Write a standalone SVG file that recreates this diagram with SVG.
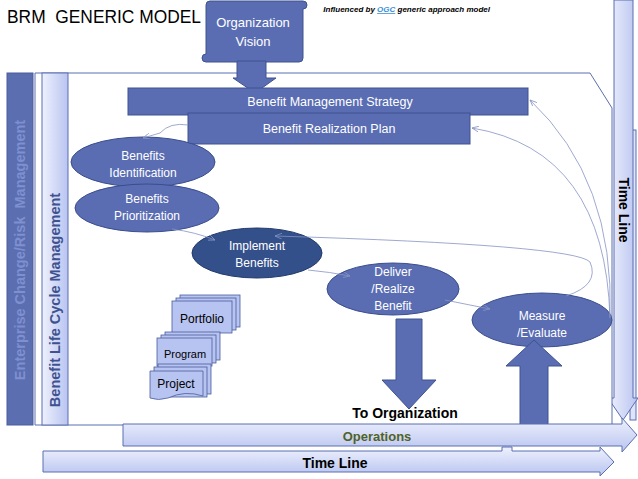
<svg xmlns="http://www.w3.org/2000/svg" width="638" height="479" viewBox="0 0 638 479">
<style>
.box{fill:#5a6db3;stroke:#3e5290;stroke-width:1}
.ell{fill:#5a6db3;stroke:#3a4d8c;stroke-width:1}
.wt{font-family:"Liberation Sans",Arial,sans-serif;fill:#fff;text-anchor:middle;font-size:12px}
.bt{font-family:"Liberation Sans",Arial,sans-serif;fill:#000;text-anchor:middle}
.con{fill:none;stroke:#8593c4;stroke-width:0.8;marker-end:url(#ah)}
.doc{fill:#b7c3f0;stroke:#4a5c9c;stroke-width:0.8}
.barr{fill:url(#lg);stroke:#5b6eb0;stroke-width:1}
</style>
<defs>
<marker id="ah" markerWidth="8" markerHeight="6" refX="7" refY="3" orient="auto" markerUnits="userSpaceOnUse"><path d="M0,0 L7,3 L0,6" fill="none" stroke="#8593c4" stroke-width="0.8"/></marker>
<linearGradient id="lg" x1="0" y1="0" x2="0" y2="1"><stop offset="0" stop-color="#eef1fd"/><stop offset="1" stop-color="#b9c4f0"/></linearGradient>
<linearGradient id="lgh" x1="0" y1="0" x2="1" y2="0"><stop offset="0" stop-color="#eef1fd"/><stop offset="1" stop-color="#b9c4f0"/></linearGradient>
</defs>
<rect width="638" height="479" fill="#fff"/>
<text x="7" y="23" class="bt" style="text-anchor:start;font-size:18px" textLength="194" lengthAdjust="spacingAndGlyphs">BRM&#160; GENERIC MODEL</text>
<text x="490" y="12" class="bt" style="text-anchor:end;font-size:8px;font-style:italic;font-weight:bold">Influenced by <tspan fill="#3a8fd6" text-decoration="underline">OGC</tspan> generic approach model</text>
<g id="timeline-vertical">
<rect x="630" y="130" width="6" height="290" fill="#dfe4fb" stroke="#5b6eb0"/>
<path d="M614,0 H633 V398 L638,398 L623,420 L608,398 L614,398 Z" fill="url(#lgh)" stroke="#5b6eb0"/>
<text transform="translate(619,210) rotate(90)" class="bt" style="font-size:14px;font-weight:bold">Time Line</text>
</g>
<g id="frame">
<path d="M35,73 H590 L612,108 V425 H35 Z" fill="#fff" stroke="#5b6eb0" stroke-width="1"/>
</g>
<g id="enterprise">
<rect x="7" y="73" width="26" height="352" fill="#5b6eb0" stroke="#4a5c9c"/>
<text transform="translate(25,250) rotate(-90)" class="bt" style="font-size:14.5px;font-weight:bold;fill:#7f90d0">Enterprise Change/Risk&#160; Management</text>
</g>
<g id="lifecycle">
<rect x="42" y="73" width="26" height="352" fill="url(#lgh)" stroke="#5b6eb0"/>
<text transform="translate(60,300) rotate(-90)" class="bt" style="font-size:14.5px;font-weight:bold;fill:#3e5290">Benefit Life Cycle Management</text>
</g>
<g id="vision">
<path d="M206,5 Q206,1 210,1 H303 Q307,1 307,5 Q307,9 303,9 H303 V58 Q303,62 299,62 H206 Q202,62 202,58 Q202,54 206,54 Z" class="box"/>
<text x="253" y="27" class="wt" style="font-size:13px">Organization</text>
<text x="253" y="46" class="wt" style="font-size:13px">Vision</text>
</g>
<g id="vision-arrow"><path d="M237,61 H266 V78 H276 L255,93 L233,78 H237 Z" class="box"/></g>
<g id="bms"><rect x="128" y="88" width="400" height="27" class="box"/><text x="330" y="106" class="wt" style="font-size:12.5px">Benefit Management Strategy</text></g>
<g id="brp"><rect x="188" y="113" width="282" height="31" class="box"/><text x="329" y="133" class="wt" style="font-size:12.5px">Benefit Realization Plan</text></g>
<g id="ident"><ellipse cx="143" cy="162" rx="72" ry="25" class="ell"/><text x="143" y="160" class="wt">Benefits</text><text x="143" y="177" class="wt">Identification</text></g>
<g id="prior"><ellipse cx="147" cy="208" rx="72" ry="24" class="ell"/><text x="147" y="203" class="wt">Benefits</text><text x="147" y="220" class="wt">Prioritization</text></g>
<g id="implement"><ellipse cx="257" cy="253" rx="65" ry="25" fill="#33508a" stroke="#223a6c"/><text x="257" y="250" class="wt">Implement</text><text x="257" y="267" class="wt">Benefits</text></g>
<g id="deliver"><ellipse cx="393" cy="289" rx="66" ry="26" class="ell"/><text x="393" y="276" class="wt">Deliver</text><text x="393" y="293" class="wt">/Realize</text><text x="393" y="310" class="wt">Benefit</text></g>
<g id="measure"><ellipse cx="542" cy="320" rx="70" ry="27" class="ell"/><text x="542" y="320" class="wt">Measure</text><text x="542" y="337" class="wt">/Evaluate</text></g>
<g id="docs">
<rect x="180" y="295" width="60" height="32" class="doc"/><rect x="176" y="298" width="60" height="32" class="doc"/><rect x="172" y="301" width="60" height="32" class="doc"/>
<text x="202" y="323" class="bt" style="font-size:12px">Portfolio</text>
<rect x="165" y="332" width="55" height="28" class="doc"/><rect x="161" y="335" width="55" height="28" class="doc"/><rect x="157" y="338" width="55" height="28" class="doc"/>
<text x="185" y="358" class="bt" style="font-size:11px">Program</text>
<rect x="158" y="364" width="53" height="30" class="doc"/><rect x="154" y="367" width="53" height="30" class="doc"/>
<path d="M150,371 H203 V396 Q185,390 168,398 Q158,401 150,398 Z" class="doc"/>
<text x="176" y="388" class="bt" style="font-size:12px">Project</text>
</g>
<g id="down-arrow"><path d="M396,319 H422 V380 H436 L409,409 L382,380 H396 Z" class="box"/></g>
<text x="405" y="418" class="bt" style="font-size:14px;font-weight:bold">To Organization</text>
<g id="up-arrow"><path d="M520,425 V366 H506 L534,340 L562,366 H548 V425 Z" class="box"/></g>
<g id="operations">
<path d="M123,424 H622 V418 L637,435 L622,452 V446 H123 Z" class="barr"/>
<text x="377" y="441" class="bt" style="font-size:13px;font-weight:bold;fill:#4f6228">Operations</text>
</g>
<g id="timeline-h">
<path d="M43,451 H502 V447 L512,447 L512,451 H600 V447 L614,462 L600,476 V472 H43 Z" class="barr"/>
<text x="335" y="468" class="bt" style="font-size:14px;font-weight:bold">Time Line</text>
</g>
<g id="connectors">
<path class="con" d="M188,125 Q170,122 160,133 L143,138"/>
<path class="con" d="M172,229 Q195,232 215,240"/>
<path class="con" d="M308,270 Q330,272 350,276"/>
<path class="con" d="M445,300 Q470,305 490,309"/>
<path class="con" d="M566,296 Q600,285 590,262 Q575,245 275,236"/>
<path class="con" d="M610,318 Q615,180 530,100"/>
<path class="con" d="M610,318 Q605,150 472,128"/>
</g>
</svg>
